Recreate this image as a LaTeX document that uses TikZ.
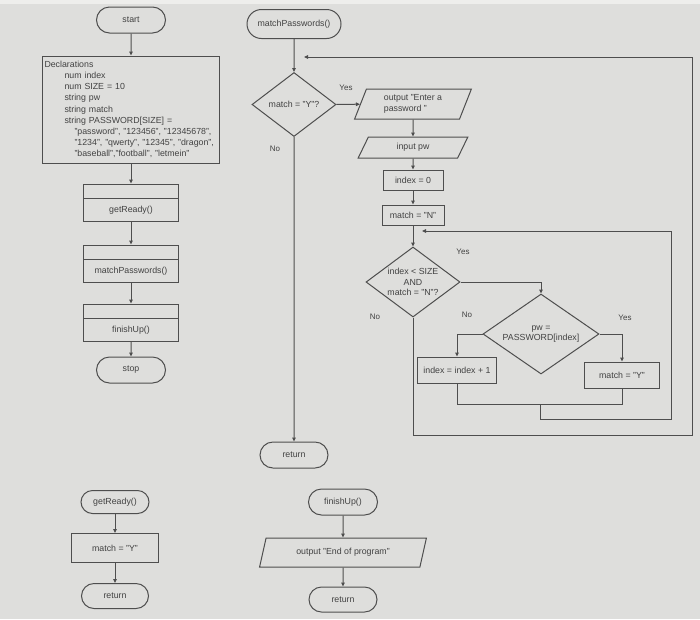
\documentclass[tikz,border=0pt]{standalone}
\usepackage{fontspec}
\setmainfont{Liberation Sans}
\usepackage{tikz}
\usetikzlibrary{positioning,arrows.meta,shapes.geometric,shapes.misc}
\tikzset{>={Triangle[length=4pt,width=3.6pt]}}
\definecolor{cBack}{RGB}{222,222,220}
\definecolor{cStrip}{RGB}{238,238,236}
\definecolor{cLine}{RGB}{78,78,78}
\definecolor{cText}{RGB}{66,66,66}

\begin{document}
\begin{tikzpicture}[
  x=1pt, y=-1pt,
  line width=1pt,
  color=cLine
]

% Styles.
\tikzset{
  base/.style={draw, inner sep=1.5pt, align=center, text=cText, font=\fontsize{8.8}{10.5}\selectfont},
  term/.style={base, rounded rectangle, minimum width=72pt, minimum height=26pt},
  proc/.style={base, rectangle},
  io/.style={base, trapezium, trapezium left angle=70, trapezium right angle=110, trapezium stretches=true},
  dec/.style={base, diamond, inner sep=0pt},
  pred/.style={base, rectangle, minimum width=95pt, inner ysep=0pt, text height=28pt, text depth=9pt,
    path picture={\draw ([yshift=-14.5pt]path picture bounding box.north west) -- ([yshift=-14.5pt]path picture bounding box.north east);}},
  lbl/.style={inner sep=0pt, text=cText, font=\fontsize{8}{9}\selectfont}
}

% Background.
\fill[cBack] (0,0) rectangle (700,619);
\fill[cStrip] (0,0) rectangle (700,4);
\useasboundingbox (0,0) rectangle (700,619);

% Main program.
\node (start) [term] at (131,20) {start};
\node (decl) [proc, below=22pt of start, text width=173pt, minimum height=107pt, inner sep=2pt, align=left,
  font=\fontsize{8.8}{11.2}\selectfont] {Declarations\\
  \hspace*{20pt}num index\\
  \hspace*{20pt}num SIZE = 10\\
  \hspace*{20pt}string pw\\
  \hspace*{20pt}string match\\
  \hspace*{20pt}string PASSWORD[SIZE] =\\
  \hspace*{30pt}"password", "123456", "12345678",\\
  \hspace*{30pt}"1234", "qwerty", "12345", "dragon",\\
  \hspace*{30pt}"baseball","football", "letmein"};
\node (getready) [pred, below=20pt of decl] {getReady()};
\node (matchpw)  [pred, below=23pt of getready] {matchPasswords()};
\node (finish)   [pred, below=21pt of matchpw] {finishUp()};
\node (stop)     [term, below=15pt of finish] {stop};

\foreach \a/\b in {start/decl, decl/getready, getready/matchpw, matchpw/finish, finish/stop}{
  \draw[->] (\a) -- (\b);
}

% matchPasswords().
\node (mpwstart) [term, minimum width=97pt, minimum height=29pt] at (294,24) {matchPasswords()};
\node (ask)   [dec, aspect=1.31, minimum width=84pt, minimum height=64pt, below=33pt of mpwstart] {match = "Y"?};
\node (ret1)  [term, minimum width=71pt] at (294,455) {return};
\node (outpw) [io, minimum width=117pt, minimum height=30pt, align=left] at (413,104) {output "Enter a\\password "};
\node (inpw)  [io, minimum width=110pt, minimum height=21pt, below=17pt of outpw] {input pw};
\node (idx0)  [proc, minimum width=60pt, minimum height=20pt, below=11pt of inpw] {index = 0};
\node (setN)  [proc, minimum width=62pt, minimum height=20pt, below=14pt of idx0] {match = "N"};
\node (loopq) [dec, aspect=1.34, minimum width=94pt, minimum height=70pt, below=21pt of setN] {index < SIZE\\AND\\match = "N"?};
\node (pwq)   [dec, aspect=1.45, minimum width=116pt, minimum height=80pt] at (541,334) {pw =\\PASSWORD[index]};
\node (incr)  [proc, minimum width=79pt, minimum height=26pt] at (457,370) {index = index + 1};
\node (setY)  [proc, minimum width=75pt, minimum height=26pt] at (622,375) {match = "Y"};

% Loop points.
\coordinate (loop1) at (304,57);
\coordinate (loop2) at (422,231);
\coordinate (join)  at (540,404);
\coordinate (back2) at (671,419);
\coordinate (back1) at (692,435);

\foreach \a/\b in {mpwstart/ask, ask/outpw, ask/ret1, outpw/inpw, inpw/idx0, idx0/setN, setN/loopq}{
  \draw[->] (\a) -- (\b);
}
\draw[->] (loopq.east) -| (pwq.north);
\draw[->] (pwq.west) -| (incr.north);
\draw[->] (pwq.east) -| (setY.north);
\draw (incr) |- (join) -| (setY);
\draw[->] (join) |- (back2) |- (loop2);
\draw[->] (loopq) |- (back1) |- (loop1);

% Branch labels.
\node (yes1) [lbl] at (346,88)  {Yes};
\node (no1)  [lbl] at (275,149) {No};
\node (yes2) [lbl] at (463,252) {Yes};
\node (no2)  [lbl] at (375,317) {No};
\node (no3)  [lbl] at (467,315) {No};
\node (yes3) [lbl] at (625,318) {Yes};

% getReady().
\node (gr2)   [term, minimum width=71pt, minimum height=23pt] at (115,502) {getReady()};
\node (setY2) [proc, minimum width=87pt, minimum height=29pt, below=19pt of gr2] {match = "Y"};
\node (ret2)  [term, minimum width=70pt, minimum height=25pt, below=20pt of setY2] {return};

% finishUp().
\node (fu2)    [term, minimum width=72pt, minimum height=26pt] at (343,502) {finishUp()};
\node (outend) [io, minimum width=167pt, minimum height=29pt, below=22pt of fu2] {output "End of program"};
\node (ret3)   [term, minimum width=71pt, minimum height=25pt, below=19pt of outend] {return};

\foreach \a/\b in {gr2/setY2, setY2/ret2, fu2/outend, outend/ret3}{
  \draw[->] (\a) -- (\b);
}
\end{tikzpicture}
\end{document}
